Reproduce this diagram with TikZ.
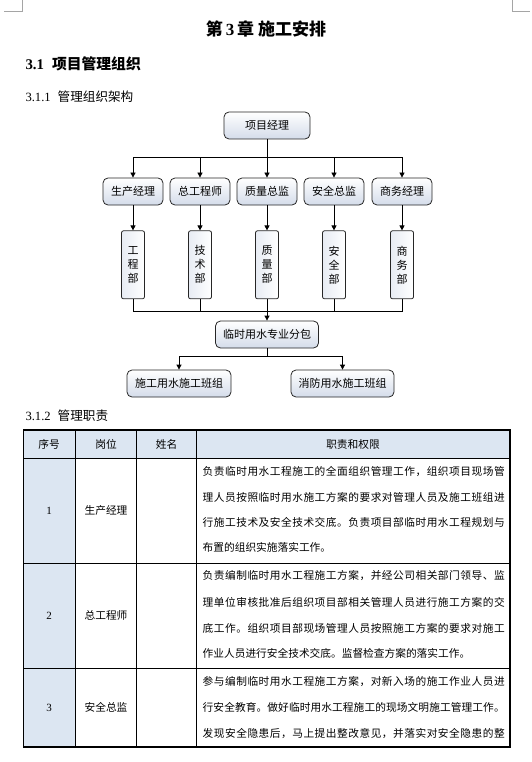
\documentclass[tikz,border=0pt]{standalone}
\usepackage{fontspec}
\setmainfont{Liberation Serif}
\newfontfamily\cjk{Noto Sans CJK SC}
\usetikzlibrary{arrows.meta,positioning}

\definecolor{boxblue}{RGB}{212,220,234}
\definecolor{hdrblue}{RGB}{220,230,242}
\definecolor{markgray}{RGB}{165,165,165}

% spread one line of CJK text over the cell width
\def\gapfill{\hskip0pt plus1fil minus0.6pt\relax}
\def\spreadloop#1{\ifx#1\relax\else#1\gapfill\expandafter\spreadloop\fi}
\newcommand\spread[1]{\makebox[302pt][s]{\expandafter\spreadloop#1\relax\unskip}}

\tikzset{
  orgbox/.style={draw=black!85, line width=0.8pt, rounded corners=5pt,
    top color=white, bottom color=boxblue, minimum width=#1,
    minimum height=27pt, inner sep=0pt, font=\cjk\fontsize{11}{13}\selectfont},
  orgbox/.default=60pt,
  deptbox/.style={draw=black!85, line width=0.8pt, rounded corners=2pt,
    left color=boxblue!55, right color=white, minimum width=23pt,
    minimum height=68pt, inner sep=0pt, align=center,
    font=\cjk\fontsize{11}{14}\selectfont},
  link/.style={line width=0.8pt},
  arr/.style={link, -{Triangle[length=5pt,width=5pt]}},
  cell/.style={inner sep=0pt, font=\cjk\fontsize{10.7}{13}\selectfont},
  grid/.style={line width=0.6pt},
}

\begin{document}
\begin{tikzpicture}[x=1pt, y=-1pt]
  \useasboundingbox (0,0) rectangle (531,762);

  % page corner marks
  \draw[markgray, line width=0.6pt] (4,11) -- (22,11) -- (22,0);
  \draw[markgray, line width=0.6pt] (512,0) -- (512,11) -- (530,11);

  % headings
  \node[font=\bfseries\fontsize{17}{20}\selectfont] (title) at (266,29.5)
    {{\cjk 第}\,3\,{\cjk 章\hspace{4pt}施工安排}};
  \node[anchor=west, font=\bfseries\fontsize{14.8}{17}\selectfont] (sec) at (22,64)
    {3.1\hspace{8pt}{\cjk 项目管理组织}};
  \node[anchor=west, font=\fontsize{12.6}{15}\selectfont] (subA) at (22,96.5)
    {3.1.1\hspace{7pt}{\cjk 管理组织架构}};
  \node[anchor=west, font=\fontsize{12.6}{15}\selectfont] (subB) at (22,415.2)
    {3.1.2\hspace{7pt}{\cjk 管理职责}};

  % organisation chart
  \node[orgbox=86pt] (pm) at (267,125.5) {项目经理};

  \node[orgbox] (scjl) at (133,191.5) {生产经理};
  \node[orgbox] (zgcs) at (200,191.5) {总工程师};
  \node[orgbox] (zlzj) at (267,191.5) {质量总监};
  \node[orgbox] (aqzj) at (334,191.5) {安全总监};
  \node[orgbox] (swjl) at (402,191.5) {商务经理};

  \node[deptbox, below=25pt of scjl] (gcb) {工\\程\\部};
  \node[deptbox, below=25pt of zgcs] (jsb) {技\\术\\部};
  \node[deptbox, below=25pt of zlzj] (zlb) {质\\量\\部};
  \node[deptbox, below=25pt of aqzj] (aqb) {安\\全\\部};
  \node[deptbox, below=25pt of swjl] (swb) {商\\务\\部};

  \node[orgbox=103pt] (fb) at (267,334.5) {临时用水专业分包};
  \node[orgbox=104pt] (sgbz) at (179,383.5) {施工用水施工班组};
  \node[orgbox=103pt] (xfbz) at (342.5,383.5) {消防用水施工班组};

  \coordinate (busA) at (267,157);
  \coordinate (busB) at (267,311);
  \coordinate (busC) at (267,356);

  \draw[link] (pm.south) -- (busA);
  \foreach \n in {scjl,zgcs,zlzj,aqzj,swjl}
    \draw[arr] (busA) -| (\n.north);
  \draw[arr] (scjl) -- (gcb);
  \draw[arr] (zgcs) -- (jsb);
  \draw[arr] (zlzj) -- (zlb);
  \draw[arr] (aqzj) -- (aqb);
  \draw[arr] (swjl) -- (swb);
  \foreach \n in {gcb,jsb,zlb,aqb,swb}
    \draw[link] (\n.south) |- (busB);
  \draw[arr] (busB) -- (fb.north);
  \draw[link] (fb.south) -- (busC);
  \draw[arr] (busC) -| (sgbz.north);
  \draw[arr] (busC) -| (xfbz.north);

  % duty table
  \fill[hdrblue] (23.7,430) rectangle (510,458);
  \fill[hdrblue] (23.7,458) rectangle (75.2,747);
  \foreach \y in {458,563.5,668}
    \draw[grid] (23.7,\y) -- (510,\y);
  \foreach \x in {75.2,136.5,196.4}
    \draw[grid] (\x,430) -- (\x,747);
  \draw[line width=1.2pt] (23.7,430) rectangle (510,747);

  \node[cell] (hxh) at (49,444) {序号};
  \node[cell] (hgw) at (106,444) {岗位};
  \node[cell] (hxm) at (166.5,444) {姓名};
  \node[cell] (hzz) at (353,444) {职责和权限};

  \node[font=\fontsize{11}{13}\selectfont] (no1) at (49,510.8) {1};
  \node[font=\fontsize{11}{13}\selectfont] (no2) at (49,615.8) {2};
  \node[font=\fontsize{11}{13}\selectfont] (no3) at (49,707.5) {3};
  \node[cell] (gw1) at (106,510.8) {生产经理};
  \node[cell] (gw2) at (106,615.8) {总工程师};
  \node[cell] (gw3) at (106,707.5) {安全总监};

  \foreach \y/\t [count=\i] in {
      471.5/负责临时用水工程施工的全面组织管理工作，组织项目现场管,
      497/理人员按照临时用水施工方案的要求对管理人员及施工班组进,
      522.5/行施工技术及安全技术交底。负责项目部临时用水工程规划与,
      576/负责编制临时用水工程施工方案，并经公司相关部门领导、监,
      602/理单位审核批准后组织项目部相关管理人员进行施工方案的交,
      628/底工作。组织项目部现场管理人员按照施工方案的要求对施工,
      681.5/参与编制临时用水工程施工方案，对新入场的施工作业人员进,
      707.5/行安全教育。做好临时用水工程施工的现场文明施工管理工作。,
      733.5/发现安全隐患后，马上提出整改意见，并落实对安全隐患的整}
    \node[cell, anchor=west] (duty\i) at (202.5,\y) {\spread{\t}};
  \node[cell, anchor=west] (dutyA) at (202.5,547) {布置的组织实施落实工作。};
  \node[cell, anchor=west] (dutyB) at (202.5,653.5) {作业人员进行安全技术交底。监督检查方案的落实工作。};
\end{tikzpicture}
\end{document}
